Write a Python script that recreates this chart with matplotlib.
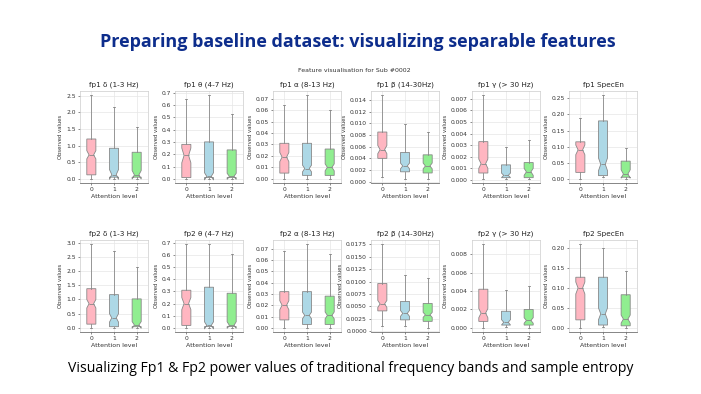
import matplotlib
matplotlib.use('Agg')
import matplotlib.pyplot as plt
from matplotlib.ticker import MultipleLocator
import numpy as np

titles = ['fp1 δ (1-3 Hz)', 'fp1 θ (4-7 Hz)', 'fp1 α (8-13 Hz)', 'fp1 β (14-30Hz)', 'fp1 γ (> 30 Hz)', 'fp1 SpecEn',
          'fp2 δ (1-3 Hz)', 'fp2 θ (4-7 Hz)', 'fp2 α (8-13 Hz)', 'fp2 β (14-30Hz)', 'fp2 γ (> 30 Hz)', 'fp2 SpecEn']
levels = ['0', '1', '2']
ytick_step = [0.5, 0.1, 0.01, 0.002, 0.001, 0.05, 0.5, 0.1, 0.01, 0.0025, 0.002, 0.05]

# per subplot: values for attention level 0, 1, 2
whislo = [[0.0, 0.0, 0.0], [0.0, 0.0, 0.0], [0.0, 0.0, 0.0], [0.0008, 0.0005, 0.0005], [0.0001, 0.0001, 0.0001], [0.0, 0.005, 0.0],
          [0.0, 0.0, 0.0], [0.0, 0.0, 0.0], [0.0, 0.0, 0.0], [0.001, 0.001, 0.0007], [0.0, 0.0001, 0.0], [0.0, 0.002, 0.0]]
q1 = [[0.12, 0.05, 0.05], [0.01, 0.01, 0.01], [0.005, 0.003, 0.003], [0.004, 0.0017, 0.0015], [0.0006, 0.0002, 0.0002], [0.02, 0.01, 0.005],
      [0.13, 0.04, 0.04], [0.02, 0.01, 0.01], [0.007, 0.003, 0.003], [0.0041, 0.0023, 0.002], [0.0007, 0.0003, 0.0003], [0.02, 0.007, 0.005]]
med = [[0.72, 0.13, 0.12], [0.19, 0.02, 0.02], [0.019, 0.009, 0.010], [0.0055, 0.0027, 0.0027], [0.0014, 0.0004, 0.0007], [0.09, 0.045, 0.015],
       [0.85, 0.35, 0.10], [0.20, 0.02, 0.02], [0.020, 0.011, 0.011], [0.0055, 0.0036, 0.0033], [0.0016, 0.0006, 0.0008], [0.10, 0.035, 0.022]]
q3 = [[1.20, 0.92, 0.80], [0.28, 0.30, 0.235], [0.031, 0.031, 0.026], [0.0085, 0.005, 0.0046], [0.0033, 0.0013, 0.0015], [0.115, 0.18, 0.055],
      [1.38, 1.17, 1.02], [0.31, 0.335, 0.285], [0.032, 0.032, 0.028], [0.0096, 0.006, 0.0056], [0.0042, 0.0018, 0.002], [0.127, 0.127, 0.083]]
whishi = [[2.52, 2.17, 1.55], [0.65, 0.68, 0.53], [0.064, 0.073, 0.060], [0.0148, 0.0099, 0.0085], [0.0073, 0.0028, 0.0034], [0.188, 0.26, 0.097],
          [2.95, 2.70, 2.15], [0.69, 0.69, 0.61], [0.068, 0.074, 0.065], [0.0175, 0.0113, 0.0108], [0.0091, 0.0041, 0.0046], [0.21, 0.20, 0.143]]
cilo = [[0.60, -0.02, -0.01], [0.13, -0.01, -0.005], [0.015, 0.006, 0.007], [0.0048, 0.0022, 0.0022], [0.0010, 0.0002, 0.0004], [0.075, 0.025, 0.002],
        [0.70, 0.20, -0.02], [0.15, -0.01, -0.005], [0.016, 0.008, 0.008], [0.0048, 0.003, 0.0028], [0.0011, 0.0003, 0.0005], [0.085, 0.02, 0.012]]
cihi = [[0.85, 0.28, 0.25], [0.25, 0.05, 0.045], [0.023, 0.012, 0.013], [0.0062, 0.0032, 0.0032], [0.0018, 0.0006, 0.001], [0.105, 0.065, 0.028],
        [1.00, 0.50, 0.22], [0.25, 0.05, 0.05], [0.024, 0.014, 0.014], [0.0062, 0.0042, 0.0038], [0.0021, 0.0009, 0.0011], [0.115, 0.05, 0.032]]

colors = ['#ffb6c1', '#add8e6', '#90ee90']

W, H = 701, 394
fig = plt.figure(figsize=(W / 100, H / 100), dpi=100)
fig.patch.set_facecolor('white')

fig.text(0.51, 1 - 42 / H, 'Preparing baseline dataset: visualizing separable features', ha='center', va='center',
         fontsize=13, fontweight='bold', color='#0d2d8c', family=['Open Sans', 'DejaVu Sans'])
fig.text(0.505, 1 - 71 / H, 'Feature visualisation for Sub #0002', ha='center', va='center', fontsize=4.5, color='#333333')
fig.text(0.5, 1 - 368 / H, 'Visualizing Fp1 & Fp2 power values of traditional frequency bands and sample entropy',
         ha='center', va='center', fontsize=10.1, color='black', family=['Open Sans', 'DejaVu Sans'])

lefts = [80, 175, 273, 371, 472, 569]
tops = [91, 240]
aw, ah = 68, 92

for k in range(12):
    r, c = divmod(k, 6)
    ax = fig.add_axes([lefts[c] / W, 1 - (tops[r] + ah) / H, aw / W, ah / H])
    stats = []
    for j in range(3):
        stats.append(dict(whislo=whislo[k][j], q1=q1[k][j], med=med[k][j], q3=q3[k][j], whishi=whishi[k][j],
                          cilo=cilo[k][j], cihi=cihi[k][j], fliers=[], label=levels[j]))
    bp = ax.bxp(stats, positions=[0, 1, 2], widths=0.4, shownotches=True, patch_artist=True,
                boxprops=dict(edgecolor='#888888', linewidth=0.6),
                whiskerprops=dict(color='#888888', linewidth=0.6),
                capprops=dict(color='#888888', linewidth=0.6),
                medianprops=dict(color='#888888', linewidth=0.6),
                capwidths=0.1)
    for patch, col in zip(bp['boxes'], colors):
        patch.set_facecolor(col)
    ax.set_xlim(-0.5, 2.5)
    ax.yaxis.set_major_locator(MultipleLocator(ytick_step[k]))
    ax.set_title(titles[k], fontsize=5.2, pad=3, color='#222222')
    ax.set_xlabel('Attention level', fontsize=4.5, labelpad=1, color='#333333')
    ax.set_ylabel('Observed values', fontsize=3.8, labelpad=2, color='#333333')
    ax.tick_params(labelsize=4.3, length=1.5, width=0.4, pad=1.5, colors='#333333')
    ax.grid(True, color='#e6e6e6', linewidth=0.5)
    ax.set_axisbelow(True)
    for s in ax.spines.values():
        s.set_color('#cccccc')
        s.set_linewidth(0.5)
    ax.spines['bottom'].set_color('#555555')

fig.savefig('out.png', dpi=100)
